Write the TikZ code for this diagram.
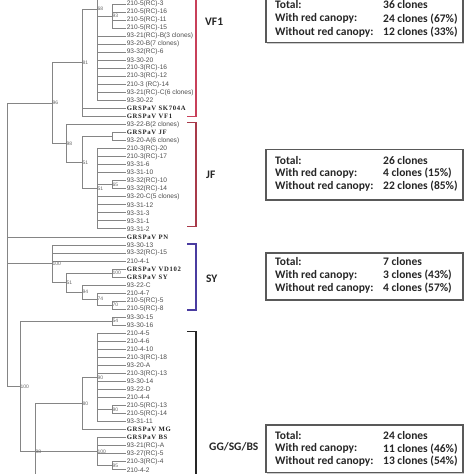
\documentclass[tikz,border=0pt]{standalone}
\usepackage{fontspec}
\setmainfont{Liberation Sans}
\newfontfamily\calfont{Carlito}
\newfontfamily\refserif[LetterSpace=10]{Liberation Serif}
\usetikzlibrary{shadows}
\definecolor{vfred}{HTML}{C8405A}
\definecolor{jfred}{HTML}{A83A4A}
\definecolor{syblue}{HTML}{4A3CA0}
\definecolor{treegray}{HTML}{858585}
\newcommand\lfn[4]{\node[lf] (#1) at (126,{4+8.03*#2}) {#4}; \draw[br] (#3) |- (#1.west);}
\newcommand\rfn[4]{\node[rf] (#1) at (126,{4+8.03*#2}) {#4}; \draw[br] (#3) |- (#1.west);}
\begin{document}
\begin{tikzpicture}[x=1pt,y=-1pt,
  br/.style={draw=treegray, line width=0.7pt},
  lf/.style={anchor=west, inner sep=0.6pt, font=\fontsize{6.6}{6.6}\selectfont, text=black!70},
  rf/.style={anchor=west, inner sep=0.6pt, font=\refserif\bfseries\fontsize{6.7}{6.7}\selectfont, text=black!85},
  bs/.style={anchor=west, inner sep=0.3pt, font=\fontsize{5}{5}\selectfont, text=black!60},
  brk/.style={line width=1.3pt},
  statbox/.style={draw=black!65, line width=1.1pt, fill=white, minimum width=197pt, inner sep=0pt,
    drop shadow={shadow xshift=1.2pt, shadow yshift=-1.2pt, opacity=0.4}},
  st/.style={anchor=west, inner sep=0pt, font=\calfont\bfseries\fontsize{11.5}{12}\selectfont, text=black!85},
  clade/.style={anchor=west, inner sep=0pt, font=\calfont\bfseries\fontsize{11.5}{12}\selectfont, text=black!85}]
\useasboundingbox (0,0) rectangle (474,474);
\clip (0,0) rectangle (474,474);

% internal nodes
\coordinate (root) at (7,244.8);
\coordinate (n96) at (52,103.1);
\coordinate (n81) at (82,62.71);
\coordinate (n68) at (97,9);
\coordinate (n68top) at (97,-2);
\coordinate (n93) at (112,16.05);
\coordinate (n98a) at (66,143.5);
\coordinate (n51a) at (82,162.6);
\coordinate (nJF) at (112,136.5);
\coordinate (n51b) at (97,188.69);
\coordinate (n65) at (112,184.68);
\coordinate (n100sy) at (52,263.7);
\coordinate (n51c) at (66,282.5);
\coordinate (nVD) at (112,273);
\coordinate (n94) at (82,292.1);
\coordinate (n74) at (97,299.1);
\coordinate (n70) at (112,305.1);
\coordinate (n100gg) at (20,386.5);
\coordinate (n54) at (112,321.2);
\coordinate (n98b) at (35,451.7);
\coordinate (nbelow) at (35,480);
\coordinate (n80) at (82,403.5);
\coordinate (n90) at (97,377.4);
\coordinate (n90b) at (112,409.5);
\coordinate (n100bs) at (97,451.7);
\coordinate (n95) at (112,465.7);

% internal branches
\draw[br] (root) |- (n96);
\draw[br] (root) |- (n100sy);
\draw[br] (root) |- (n100gg);
\draw[br] (n96) |- (n81);
\draw[br] (n96) |- (n98a);
\draw[br] (n81) |- (n68);
\draw[br] (n68) |- (n93);
\draw[br] (n68) -- (n68top);
\draw[br] (n98a) |- (n51a);
\draw[br] (n51a) |- (nJF);
\draw[br] (n51a) |- (n51b);
\draw[br] (n51b) |- (n65);
\draw[br] (n100sy) |- (n51c);
\draw[br] (n51c) |- (nVD);
\draw[br] (n51c) |- (n94);
\draw[br] (n94) |- (n74);
\draw[br] (n74) |- (n70);
\draw[br] (n100gg) |- (n54);
\draw[br] (n100gg) |- (n98b);
\draw[br] (n98b) |- (n80);
\draw[br] (n98b) -- (n100bs);
\draw[br] (n98b) -- (nbelow);
\draw[br] (n80) |- (n90);
\draw[br] (n90) |- (n90b);
\draw[br] (n100bs) |- (n95);

% leaves
\lfn{L0}{0}{n93}{210-5(RC)-3}
\lfn{L1}{1}{n93}{210-5(RC)-16}
\lfn{L2}{2}{n93}{210-5(RC)-11}
\lfn{L3}{3}{n93}{210-5(RC)-15}
\lfn{L4}{4}{n68}{93-21(RC)-B(3 clones)}
\lfn{L5}{5}{n68}{93-20-B(7 clones)}
\lfn{L6}{6}{n68}{93-32(RC)-6}
\lfn{L7}{7}{n68}{93-30-20}
\lfn{L8}{8}{n68}{210-3(RC)-16}
\lfn{L9}{9}{n68}{210-3(RC)-12}
\lfn{L10}{10}{n68}{210-3 (RC)-14}
\lfn{L11}{11}{n68}{93-21(RC)-C(6 clones)}
\lfn{L12}{12}{n68}{93-30-22}
\rfn{L13}{13}{n81}{GRSPaV SK704A}
\rfn{L14}{14}{n81}{GRSPaV VF1}
\lfn{L15}{15}{n98a}{93-22-B(2 clones)}
\rfn{L16}{16}{nJF}{GRSPaV JF}
\lfn{L17}{17}{nJF}{93-20-A(6 clones)}
\lfn{L18}{18}{n51b}{210-3(RC)-20}
\lfn{L19}{19}{n51b}{210-3(RC)-17}
\lfn{L20}{20}{n51b}{93-31-6}
\lfn{L21}{21}{n51b}{93-31-10}
\lfn{L22}{22}{n65}{93-32(RC)-10}
\lfn{L23}{23}{n65}{93-32(RC)-14}
\lfn{L24}{24}{n51b}{93-20-C(5 clones)}
\lfn{L25}{25}{n51b}{93-31-12}
\lfn{L26}{26}{n51b}{93-31-3}
\lfn{L27}{27}{n51b}{93-31-1}
\lfn{L28}{28}{n51b}{93-31-2}
\rfn{L29}{29}{root}{GRSPaV PN}
\lfn{L30}{30}{n100sy}{93-30-13}
\lfn{L31}{31}{n100sy}{93-32(RC)-15}
\lfn{L32}{32}{n100sy}{210-4-1}
\rfn{L33}{33}{nVD}{GRSPaV VD102}
\rfn{L34}{34}{nVD}{GRSPaV SY}
\lfn{L35}{35}{n94}{93-22-C}
\lfn{L36}{36}{n74}{210-4-7}
\lfn{L37}{37}{n70}{210-5(RC)-5}
\lfn{L38}{38}{n70}{210-5(RC)-8}
\lfn{L39}{39}{n54}{93-30-15}
\lfn{L40}{40}{n54}{93-30-16}
\lfn{L41}{41}{n90}{210-4-5}
\lfn{L42}{42}{n90}{210-4-6}
\lfn{L43}{43}{n90}{210-4-10}
\lfn{L44}{44}{n90}{210-3(RC)-18}
\lfn{L45}{45}{n90}{93-20-A}
\lfn{L46}{46}{n90}{210-3(RC)-13}
\lfn{L47}{47}{n90}{93-30-14}
\lfn{L48}{48}{n90}{93-22-D}
\lfn{L49}{49}{n90}{210-4-4}
\lfn{L50}{50}{n90b}{210-5(RC)-13}
\lfn{L51}{51}{n90b}{210-5(RC)-14}
\lfn{L52}{52}{n90}{93-31-11}
\rfn{L53}{53}{n80}{GRSPaV MG}
\rfn{L54}{54}{n100bs}{GRSPaV BS}
\lfn{L55}{55}{n100bs}{93-21(RC)-A}
\lfn{L56}{56}{n100bs}{93-27(RC)-5}
\lfn{L57}{57}{n95}{210-3(RC)-4}
\lfn{L58}{58}{n95}{210-4-2}

% bootstrap values
\node[bs] (b93) at (n93) {93};
\node[bs] (b68) at (n68) {68};
\node[bs] (b81) at (n81) {81};
\node[bs] (b96) at (n96) {96};
\node[bs] (b98a) at (n98a) {98};
\node[bs] (b51a) at (n51a) {51};
\node[bs] (b51b) at (n51b) {51};
\node[bs] (b65) at (n65) {65};
\node[bs] (b100sy) at (n100sy) {100};
\node[bs] (b100vd) at (nVD) {100};
\node[bs] (b51c) at (n51c) {51};
\node[bs] (b94) at (n94) {94};
\node[bs] (b74) at (n74) {74};
\node[bs] (b70) at (n70) {70};
\node[bs] (b54) at (n54) {54};
\node[bs] (b100gg) at (n100gg) {100};
\node[bs] (b98b) at (n98b) {98};
\node[bs] (b80) at (n80) {80};
\node[bs] (b90) at (n90) {90};
\node[bs] (b90b) at (n90b) {90};
\node[bs] (b100bs) at (n100bs) {100};
\node[bs] (b95) at (n95) {95};

% brackets
\coordinate (vfa) at (196,-3);
\coordinate (vfb) at (196,116.4);
\coordinate (vfc) at (187,116.4);
\draw[brk, vfred] (vfa) -- (vfb) -- (vfc);
\coordinate (jfa) at (187,122.7);
\coordinate (jfb) at (196,122.7);
\coordinate (jfc) at (196,226.7);
\coordinate (jfd) at (187,226.7);
\draw[brk, jfred] (jfa) -- (jfb) -- (jfc) -- (jfd);
\coordinate (sya) at (187,244);
\coordinate (syb) at (196,244);
\coordinate (syc) at (196,310);
\coordinate (syd) at (187,310);
\draw[brk, syblue] (sya) -- (syb) -- (syc) -- (syd);
\coordinate (gga) at (187,331.7);
\coordinate (ggb) at (196,331.7);
\coordinate (ggc) at (196,480);
\draw[brk, black!85] (gga) -- (ggb) -- (ggc);

% clade names
\node[clade] (cVF) at (205,21.7) {VF1};
\node[clade] (cJF) at (206,175) {JF};
\node[clade] (cSY) at (206,279) {SY};
\node[clade] (cGG) at (209,447) {GG/SG/BS};

% stat boxes
\node[statbox, minimum height=52.7pt] (bVF) at (364.5,16.35) {};
\node[st] (tVF1) at (275,5) {Total:};
\node[st] (tVF2) at (275,18.7) {With red canopy:};
\node[st] (tVF3) at (275,32.3) {Without red canopy:};
\node[st] (vVF1) at (383,5) {36 clones};
\node[st] (vVF2) at (383,18.7) {24 clones (67\%)};
\node[st] (vVF3) at (383,32.3) {12 clones (33\%)};

\node[statbox, minimum height=50.7pt] (bJF) at (364.5,174.65) {};
\node[st] (tJF1) at (275,161) {Total:};
\node[st] (tJF2) at (275,173.6) {With red canopy:};
\node[st] (tJF3) at (275,186.2) {Without red canopy:};
\node[st] (vJF1) at (383,161) {26 clones};
\node[st] (vJF2) at (383,173.6) {4 clones (15\%)};
\node[st] (vJF3) at (383,186.2) {22 clones (85\%)};

\node[statbox, minimum height=47pt] (bSY) at (364.5,276.5) {};
\node[st] (tSY1) at (275,262) {Total:};
\node[st] (tSY2) at (275,275.2) {With red canopy:};
\node[st] (tSY3) at (275,288.4) {Without red canopy:};
\node[st] (vSY1) at (383,262) {7 clones};
\node[st] (vSY2) at (383,275.2) {3 clones (43\%)};
\node[st] (vSY3) at (383,288.4) {4 clones (57\%)};

\node[statbox, minimum height=47.5pt] (bGG) at (364.5,448.7) {};
\node[st] (tGG1) at (275,436) {Total:};
\node[st] (tGG2) at (275,448.6) {With red canopy:};
\node[st] (tGG3) at (275,461.2) {Without red canopy:};
\node[st] (vGG1) at (383,436) {24 clones};
\node[st] (vGG2) at (383,448.6) {11 clones (46\%)};
\node[st] (vGG3) at (383,461.2) {13 clones (54\%)};
\end{tikzpicture}
\end{document}
